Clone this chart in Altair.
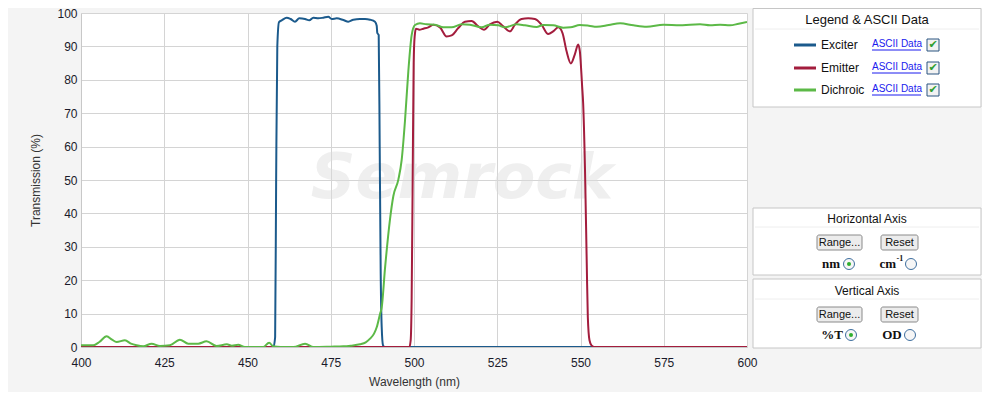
import altair as alt
import pandas as pd

# ---------------- data ----------------
series_names = ["Exciter", "Emitter", "Dichroic"]
series_colors = ["#1b5a8c", "#a31d3d", "#5cb947"]

x_ticks = [400, 425, 450, 475, 500, 525, 550, 575, 600]
y_ticks = [0, 10, 20, 30, 40, 50, 60, 70, 80, 90, 100]

exciter_nm = [400, 457.8, 458.3, 458.6, 458.95, 459.46, 460.27, 461.77, 462.97, 464.26,
              465.56, 467.27, 468.56, 469.76, 471.26, 472.76, 474.26, 475.29, 476.79,
              478.77, 480.27, 481.77, 483.78, 485.29, 486.79, 488.29, 488.8, 488.98,
              489.4, 489.7, 490.0, 490.3, 490.7, 491.2, 600]
exciter_t = [0, 0, 3, 50, 90, 97.3, 97.8, 98.6, 98.2, 97.4,
             98.4, 98.2, 97.8, 98.6, 98.4, 98.6, 98.9, 98.2, 98.4,
             97.9, 97.4, 98.0, 98.2, 98.2, 98.0, 97.4, 96.2, 94.0,
             93.4, 60, 22, 6, 0.5, 0, 0]

emitter_nm = [400, 498.6, 499.0, 499.3, 499.6, 499.9, 500.2, 500.6, 501.6, 502.8,
              504.3, 505.8, 507.8, 509.8, 511.3, 513.3, 515.3, 517.3, 519.3, 521.0,
              522.8, 525.0, 526.8, 528.8, 530.3, 532.3, 534.3, 536.3, 538.3, 540.3,
              541.8, 543.3, 544.6, 545.8, 547.1, 548.3, 549.3, 549.8, 550.5, 550.8,
              551.35, 551.9, 552.2, 552.7, 553.3, 554.2, 600]
emitter_t = [0, 0, 2, 15, 50, 85, 93, 95.3, 95.0, 95.3,
             95.7, 96.5, 95.7, 93.0, 93.3, 95.5, 97.4, 97.6, 96.0, 95.0,
             96.6, 97.4, 96.0, 94.5, 96.5, 98.2, 98.4, 98.2, 96.5, 93.7,
             94.5, 95.7, 94.0, 88.6, 84.9, 87.6, 90.6, 88.6, 77.9, 72.9,
             53.2, 23.7, 8.9, 2.0, 0.5, 0, 0]

dichroic_nm = [400, 403.7, 405.5, 407.7, 409.3, 410.7, 413.2, 415, 416.7, 418.7,
               421.2, 423.7, 426.7, 429.7, 432.2, 435.2, 437.7, 440.7, 443.8, 445.3,
               447.2, 449.2, 454.7, 456.5, 457.7, 460, 463.8, 467.3, 469.8, 475,
               478.8, 481, 483.8, 485.5, 486.8, 488.0, 488.8, 489.8, 490.3, 491.3,
               492.8, 493.8, 495.3, 496.3, 497.3, 498.3, 499.3, 500.3, 501.8, 503.8,
               506.3, 508.8, 511.3, 514.3, 516.8, 520.3, 522.8, 525.3, 527.3, 530.8,
               533.3, 536.8, 538.8, 541.8, 544.8, 547, 549.8, 552.5, 554.9, 558.5,
               561.9, 565.9, 569.9, 574.9, 579.9, 582.9, 585.9, 588.9, 591.9, 594.9,
               597.5, 600]
dichroic_t = [0.5, 0.5, 1.5, 3.2, 2.2, 1.5, 2.0, 1.0, 0.5, 0.2,
              1.0, 0.3, 0.5, 2.2, 1.0, 1.0, 1.7, 0.3, 0.8, 0.4,
              0.7, 0, 0, 1.3, 0.2, 0, 0, 1.0, 0, 0.1,
              0.2, 0.4, 0.8, 1.4, 2.5, 4.0, 5.9, 9.9, 11.8, 23.6,
              38.3, 45.2, 50.1, 56.0, 67.8, 82.6, 93.4, 96.4, 96.9, 96.6,
              96.5, 95.7, 95.7, 96.6, 96.5, 95.7, 96.5, 96.3, 95.7, 96.6,
              96.3, 95.8, 96.4, 96.3, 95.6, 95.7, 96.4, 96.2, 95.9, 96.4,
              96.9, 96.3, 95.9, 96.5, 96.3, 96.5, 96.6, 96.3, 96.5, 96.3,
              96.8, 97.3]

rows = []
for name, xs, ys in zip(series_names,
                        [exciter_nm, emitter_nm, dichroic_nm],
                        [exciter_t, emitter_t, dichroic_t]):
    for xv, yv in zip(xs, ys):
        rows.append({"series": name, "wavelength": xv, "transmission": yv})
df = pd.DataFrame(rows)

FONT = "Liberation Sans"

x_enc = alt.X("wavelength:Q",
              scale=alt.Scale(domain=[400, 600], nice=False, zero=False),
              axis=alt.Axis(values=x_ticks, title="Wavelength (nm)", format="d",
                            labelPadding=10, titlePadding=8, labelFlush=False))
y_enc = alt.Y("transmission:Q",
              scale=alt.Scale(domain=[0, 100], nice=False),
              axis=alt.Axis(values=y_ticks, title="Transmission (%)", format="d",
                            labelPadding=4, titlePadding=14, labelFlush=False))
c_enc = alt.Color("series:N", scale=alt.Scale(domain=series_names, range=series_colors),
                  legend=None)

layers = []

# watermark
ui = alt.Data(values=[{"k": 0}])
layers.append(
    alt.Chart(ui).mark_text(text="Semrock", font="DejaVu Sans", fontSize=62,
                            fontStyle="italic", fontWeight="bold", color="#dcdcdc",
                            opacity=0.45, align="center", baseline="middle")
    .encode(x=alt.value(381), y=alt.value(166))
)

for name in series_names:
    layers.append(
        alt.Chart(df).transform_filter(alt.datum.series == name)
        .mark_line(strokeWidth=2, interpolate="monotone", clip=True)
        .encode(x=x_enc, y=y_enc, color=c_enc)
    )


def text(x, y, s, size=12, weight="normal", color="#111", align="center",
         font=FONT, baseline="middle"):
    return alt.Chart(ui).mark_text(text=s, fontSize=size, fontWeight=weight, color=color,
                                   align=align, baseline=baseline, font=font).encode(
        x=alt.value(x), y=alt.value(y))


def box(x1, y1, x2, y2, fill="white", stroke="#c6c6c6", radius=0):
    return alt.Chart(ui).mark_rect(fill=fill, stroke=stroke, strokeWidth=1,
                                   cornerRadius=radius).encode(
        x=alt.value(x1), x2=alt.value(x2), y=alt.value(y1), y2=alt.value(y2))


def hline(x1, x2, y, color, width=1):
    return alt.Chart(ui).mark_rule(color=color, strokeWidth=width).encode(
        x=alt.value(x1), x2=alt.value(x2), y=alt.value(y))


def radio(x, y, on):
    out = [alt.Chart(ui).mark_circle(size=121, fill="#f6f6f6", stroke="#3f6f9f",
                                     strokeWidth=1, opacity=1).encode(
        x=alt.value(x), y=alt.value(y))]
    if on:
        out.append(alt.Chart(ui).mark_circle(size=16, color="#2fae2f", opacity=1).encode(
            x=alt.value(x), y=alt.value(y)))
    return out


def button(x1, x2, y1, y2, label):
    return [box(x1, y1, x2, y2, fill="#ececec", stroke="#8a8a8a", radius=2),
            text((x1 + x2) / 2, (y1 + y2) / 2 + 0.5, label, size=11, color="#111")]


# ---------- legend panel ----------
layers.append(box(672, -4.5, 900, 94))
layers.append(text(786, 7, "Legend & ASCII Data", size=13))
layers.append(hline(674, 898, 16, "#eeeeee"))
row_y = [32, 55, 77]
for name, col, ry in zip(series_names, series_colors, row_y):
    layers.append(hline(713, 735, ry, col, 3))
    layers.append(text(740, ry, name, size=12, align="left"))
    layers.append(text(791, ry - 1, "ASCII Data", size=10, color="#1a1aee", align="left"))
    layers.append(hline(791, 840, ry + 5, "#1a1aee"))
    layers.append(box(846, ry - 6, 858, ry + 6, fill="#f2f2f2", stroke="#2a5580"))
    layers.append(text(852, ry, "✔", size=11, color="#2f9e2f", font="DejaVu Sans"))

# ---------- horizontal axis panel ----------
layers.append(box(672, 195, 900, 262))
layers.append(text(786, 206, "Horizontal Axis", size=12))
layers.append(hline(674, 898, 214, "#eeeeee"))
layers += button(736, 781, 222, 237, "Range...")
layers += button(800, 837, 222, 237, "Reset")
layers.append(text(750, 251, "nm", size=13, weight="bold", font="Liberation Serif"))
layers += radio(768, 251, True)
layers.append(text(815, 251, "cm", size=13, weight="bold", font="Liberation Serif",
                   align="right"))
layers.append(text(815.5, 246, "-1", size=8, weight="bold", font="Liberation Serif",
                   align="left"))
layers += radio(830, 251, False)

# ---------- vertical axis panel ----------
layers.append(box(672, 266, 900, 335))
layers.append(text(786, 278, "Vertical  Axis", size=12))
layers.append(hline(674, 898, 286, "#eeeeee"))
layers += button(736, 781, 294, 309, "Range...")
layers += button(800, 837, 294, 309, "Reset")
layers.append(text(751, 322, "%T", size=13, weight="bold", font="Liberation Serif"))
layers += radio(770, 322, True)
layers.append(text(811, 322, "OD", size=13, weight="bold", font="Liberation Serif"))
layers += radio(829, 322, False)

chart = alt.layer(*layers).properties(
    width=666, height=334,
    padding={"left": 73, "top": 5, "right": 235, "bottom": 45},
    autosize=alt.AutoSizeParams(type="none"),
    background="#f4f4f4",
).configure_view(
    fill="white", strokeWidth=0
).configure_axis(
    grid=True, gridColor="#d4d4d4", gridWidth=1,
    domainColor="#c8c8c8", ticks=False,
    labelFont=FONT, labelFontSize=12, labelColor="#1a1a2a",
    titleFont=FONT, titleFontSize=12, titleColor="#333333", titleFontWeight="normal",
)

chart.save("out.html", embed_options={"renderer": "svg", "actions": False})
